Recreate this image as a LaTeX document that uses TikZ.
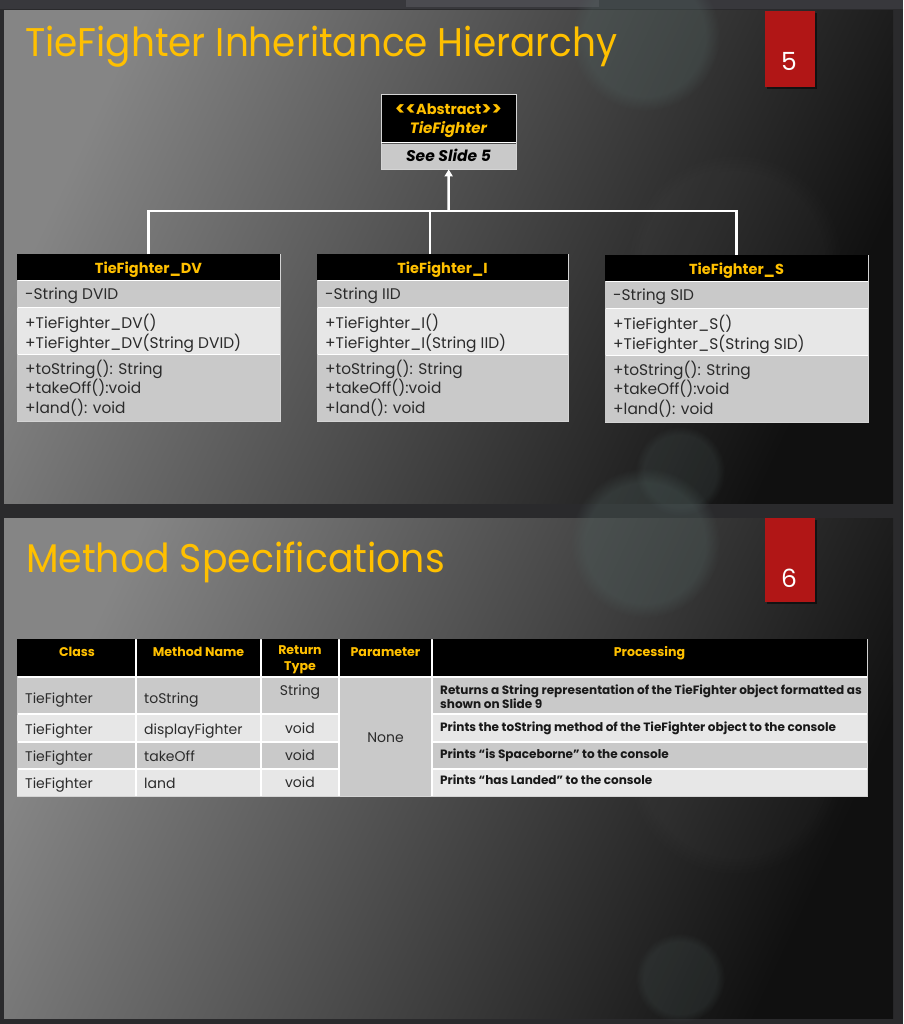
\documentclass[tikz,border=0pt]{standalone}
\usepackage{fontspec}
\setmainfont{Poppins}
\usetikzlibrary{arrows.meta,fadings,positioning}
\definecolor{framebg}{HTML}{2A2A2C}
\definecolor{topbar}{HTML}{38383C}
\definecolor{tabc}{HTML}{4B4B50}
\definecolor{slidelight}{HTML}{858585}
\definecolor{slidedark}{HTML}{101010}
\definecolor{glow}{HTML}{51615F}
\definecolor{gold}{HTML}{FFC000}
\definecolor{redbox}{HTML}{B11616}
\definecolor{rowA}{HTML}{C9C9C9}
\definecolor{rowB}{HTML}{E7E7E7}
\definecolor{txt}{HTML}{2B2B2B}
\definecolor{edge}{HTML}{D4D4D4}
\newcommand\umlbox[9]{%
  \draw[fill=white, draw=edge, line width=1pt] (#2,#3) rectangle ++(#4,167);
  \node[hdr, minimum width=#4pt, minimum height=25.5pt] (#1h) at (#2,#3) {};
  \node[hdrtext] (#1ht) at (#2+#4/2,#3+19) {#6};
  \node[rowbox, fill=rowA, minimum width=#4pt, minimum height=26pt] (#1a) at (#2,#3+27) {};
  \node[rowbox, fill=rowB, minimum width=#4pt, minimum height=46pt] (#1c) at (#2,#3+54) {};
  \node[rowbox, fill=rowA, minimum width=#4pt, minimum height=66pt] (#1m) at (#2,#3+101) {};
  \node[rowtext] (#1at) at (#5,#3+45) {#7};
  \node[rowtext] (#1ct) at (#5,#3+94) {#8};
  \node[rowtext] (#1mt) at (#5,#3+159) {#9};
}
\newcommand\bigangle[1]{{\fontsize{19}{16}\selectfont\raisebox{-0.6pt}{#1}}}
\begin{document}
\begin{tikzpicture}[x=1pt,y=-1pt,
  title/.style={text=gold, font=\fontsize{40}{48}\selectfont, inner sep=0pt, anchor=base west},
  num/.style={text=white, font=\fontsize{25}{30}\selectfont, inner sep=0pt, anchor=base},
  redrect/.style={fill=redbox, minimum width=50pt, minimum height=#1, anchor=north west, inner sep=0pt},
  hdr/.style={fill=black, anchor=north west, inner sep=0pt},
  hdrtext/.style={text=gold, font=\bfseries\fontsize{14.5}{16}\selectfont, inner sep=0pt, anchor=base},
  rowbox/.style={anchor=north west, inner sep=0pt},
  rowtext/.style={anchor=base west, inner sep=0pt, align=left, text=txt, font=\fontsize{15.4}{19.5}\selectfont},
  conn/.style={draw=white, line width=2.5pt},
  cellbox/.style={anchor=north west, inner sep=0pt, minimum height=#1},
  htext/.style={text=gold, font=\bfseries\fontsize{12.6}{16}\selectfont, inner sep=0pt, anchor=base, align=center},
  ctext/.style={text=txt, font=\fontsize{14}{17}\selectfont, inner sep=0pt, anchor=base west},
  ctextc/.style={text=txt, font=\fontsize{14}{17}\selectfont, inner sep=0pt, anchor=base},
  ptext/.style={text=black!90, font=\bfseries\fontsize{12.05}{14.5}\selectfont, inner sep=0pt, anchor=base west, align=left},
]
\useasboundingbox (0,0) rectangle (903,1024);
\fill[framebg] (0,0) rectangle (903,1024);
\fill[topbar] (0,0) rectangle (903,9);
\fill[tabc] (406,0) rectangle (599,7);
% slide backgrounds
\foreach \yt/\yb in {11/503, 518/1018}{
  \shade[top color=slidelight, bottom color=slidedark, shading angle=65] (4,\yt) rectangle (893,\yb);
  \fill[glow, fill opacity=0.35, path fading=circle with fuzzy edge 20 percent] (645,\yt+25) circle[radius=75pt];
  \fill[white, fill opacity=0.025, path fading=circle with fuzzy edge 20 percent] (735,\yt+250) circle[radius=110pt];
  \fill[glow, fill opacity=0.2, path fading=circle with fuzzy edge 20 percent] (680,\yt+460) circle[radius=45pt];
}
% slide 5
\node[title] (t1) at (25,57) {\scalebox{0.935}[1]{TieFighter Inheritance Hierarchy}};
\fill[black, opacity=0.5] (767,13) rectangle (817,89);
\node[redrect=76pt] (r1) at (765,11) {};
\node[num] (n1) at (789,71) {5};

% abstract class
\node[hdr, minimum width=135pt, minimum height=47pt] (absh) at (381,95) {};
\node[hdrtext, font=\bfseries\fontsize{14.5}{16}\selectfont] (absht1) at (448.5,115) {\bigangle{<\kern0pt<}Abstract\bigangle{>\kern0pt>}};
\node[hdrtext, font=\bfseries\itshape\fontsize{15}{16}\selectfont] (absht2) at (448.5,134) {TieFighter};
\node[rowbox, fill=rowA, minimum width=135pt, minimum height=25pt] (absb) at (381,144) {};
\node[hdrtext, text=black, font=\bfseries\itshape\fontsize{15.5}{16}\selectfont] (absbt) at (448.5,162) {See Slide 5};
\draw[edge, line width=1pt] (absh.north west) rectangle (absb.south east);
\draw[white, line width=1.5pt] (absh.south west) -- (absh.south east);

\umlbox{dv}{17}{254}{263}{25}{TieFighter\_DV}{-String DVID}{+TieFighter\_DV()\\+TieFighter\_DV(String DVID)}{+toString(): String\\+takeOff():void\\+land(): void}
\umlbox{i}{317}{254}{251}{325}{TieFighter\_I}{-String IID}{+TieFighter\_I()\\+TieFighter\_I(String IID)}{+toString(): String\\+takeOff():void\\+land(): void}
\umlbox{s}{605}{255}{263}{613}{TieFighter\_S}{-String SID}{+TieFighter\_S()\\+TieFighter\_S(String SID)}{+toString(): String\\+takeOff():void\\+land(): void}

\coordinate (j) at (448.5,211);
\coordinate (jm) at (430,211);
\draw[conn] (dvh.north) |- (j) -| (sh.north);
\draw[conn] (jm) -- (jm |- ih.north);
\draw[conn, -{Triangle[length=7pt,width=8pt]}] (j) -- (absb.south);

% slide 6
\node[title] (t2) at (26,572) {\scalebox{0.945}[1]{Method Specifications}};
\fill[black, opacity=0.5] (767,520) rectangle (817,604);
\node[redrect=84pt] (r2) at (765,518) {};
\node[num] (n2) at (789,587) {6};

% table
\draw[fill=white, draw=edge, line width=1pt] (17,639) rectangle (867,796);
\foreach \x/\w/\nm in {17/118/c1, 137/123/c2, 262/76/c3, 340/91/c4, 433/434/c5}{
  \node[cellbox=37pt, fill=black, minimum width=\w pt] (h\nm) at (\x,639) {};
}
\foreach \x/\w/\nm in {17/118/c1, 137/123/c2, 262/76/c3, 433/434/c5}{
  \node[cellbox=35pt, fill=rowA, minimum width=\w pt] (ra\nm) at (\x,678) {};
  \node[cellbox=26pt, fill=rowB, minimum width=\w pt] (rb\nm) at (\x,715) {};
  \node[cellbox=25pt, fill=rowA, minimum width=\w pt] (rc\nm) at (\x,743) {};
  \node[cellbox=26.5pt, fill=rowB, minimum width=\w pt] (rd\nm) at (\x,769.5) {};
}
\node[cellbox=118pt, fill=rowA, minimum width=91pt] (par) at (340,678) {};

\node[htext] (ht1) at (77,656) {Class};
\node[htext, anchor=base] (ht2) at (198.5,656) {Method Name};
\node[htext, anchor=north] (ht3) at (300,645) {Return\\Type};
\node[htext] (ht4) at (385.5,656) {Parameter};
\node[htext] (ht5) at (649.5,656) {Processing};

\node[ctext] (a1) at (25,703) {TieFighter};
\node[ctext] (a2) at (144,703) {toString};
\node[ctextc] (a3) at (300,695) {String};
\node[ptext] (a5) at (440,694) {Returns a String representation of the TieFighter object formatted as};
\node[ptext] (a5b) at (440,708) {shown on Slide 9};

\node[ctext] (b1) at (25,734) {TieFighter};
\node[ctext] (b2) at (144,734) {displayFighter};
\node[ctextc] (b3) at (300,733) {void};
\node[ptext] (b5) at (440,731) {Prints the toString method of the TieFighter object to the console};

\node[ctext] (c1) at (25,761) {TieFighter};
\node[ctext] (c2) at (144,761) {takeOff};
\node[ctextc] (c3) at (300,760) {void};
\node[ptext] (c5) at (440,758) {Prints “is Spaceborne” to the console};

\node[ctext] (d1) at (25,788) {TieFighter};
\node[ctext] (d2) at (144,788) {land};
\node[ctextc] (d3) at (300,787) {void};
\node[ptext] (d5) at (440,784) {Prints “has Landed” to the console};

\node[ctextc] (none) at (385.5,742) {None};
\end{tikzpicture}
\end{document}
